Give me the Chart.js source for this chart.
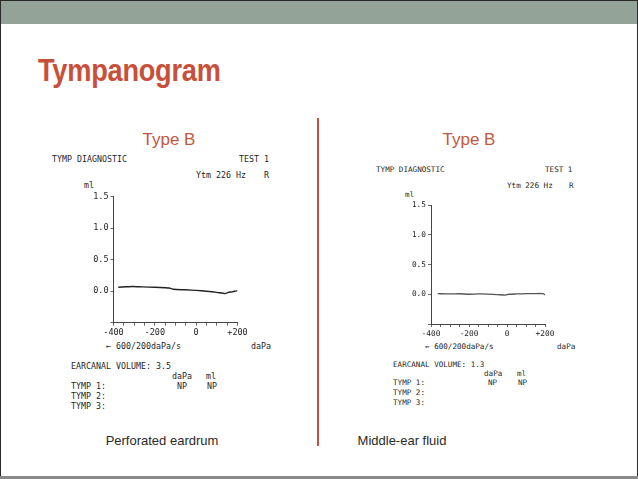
<!DOCTYPE html>
<html>
<head>
<meta charset="utf-8">
<script src="https://cdn.jsdelivr.net/npm/chart.js@4"></script>
<style>
  html, body { margin: 0; padding: 0; background: #fff; }
  #slide { position: relative; width: 638px; height: 479px; overflow: hidden; background: #fff; }
  .edge { position: absolute; background: #2a2a2a; }
  #bar { position: absolute; left: 0; top: 0; width: 638px; height: 24px; background: #93a398; }
  #title { position: absolute; left: 38px; top: 52px; font: bold 32px "Liberation Sans", Arial, sans-serif;
           color: #c8503a; letter-spacing: -0.3px; transform: scaleX(0.85); transform-origin: left top; line-height: 36px; }
  .type { position: absolute; top: 130px; width: 120px; text-align: center; font: 17px "Liberation Sans", Arial, sans-serif; color: #c0583f; }
  .caption { position: absolute; top: 433px; width: 180px; text-align: center; font: 13px "Liberation Sans", Arial, sans-serif; color: #2a2a2a; }
  #divider { position: absolute; left: 317px; top: 118px; width: 1.5px; height: 328px; background: #c8503a; }
  .p { position: absolute; font-family: "DejaVu Sans Mono", monospace; color: #1f1f1f; line-height: 1; white-space: pre; }
  .l { font-size: 8.3px; }
  .r { font-size: 7.6px; }
  canvas { position: absolute; }
</style>
</head>
<body>
<div id="slide">
  <div id="bar"></div>
  <div class="edge" style="left:0;top:0;width:638px;height:1px"></div>
  <div class="edge" style="left:0;top:0;width:1px;height:479px"></div>
  <div class="edge" style="left:637px;top:0;width:1px;height:479px"></div>
  <div class="edge" style="left:0;top:476px;width:638px;height:3px;background:#8a8a8a"></div>

  <div id="title">Tympanogram</div>
  <div id="divider"></div>

  <div class="type" style="left:109px">Type B</div>
  <div class="type" style="left:409px">Type B</div>

  <!-- left printout -->
  <div class="p l" style="left:52px;top:155px">TYMP DIAGNOSTIC</div>
  <div class="p l" style="left:239px;top:155px">TEST 1</div>
  <div class="p l" style="left:196px;top:171px">Ytm 226 Hz</div>
  <div class="p l" style="left:264px;top:171px">R</div>
  <div class="p l" style="left:84px;top:181px">ml</div>
  <div class="p l" style="left:106px;top:342px">&#8592; 600/200daPa/s</div>
  <div class="p l" style="left:251px;top:342px">daPa</div>
  <div class="p l" style="left:71px;top:362px">EARCANAL VOLUME: 3.5</div>
  <div class="p l" style="left:172px;top:372px">daPa</div>
  <div class="p l" style="left:206px;top:372px">ml</div>
  <div class="p l" style="left:71px;top:382px">TYMP 1:</div>
  <div class="p l" style="left:177px;top:382px">NP</div>
  <div class="p l" style="left:207px;top:382px">NP</div>
  <div class="p l" style="left:71px;top:392px">TYMP 2:</div>
  <div class="p l" style="left:71px;top:402px">TYMP 3:</div>

  <!-- right printout -->
  <div class="p r" style="left:376px;top:166px">TYMP DIAGNOSTIC</div>
  <div class="p r" style="left:545px;top:166px">TEST 1</div>
  <div class="p r" style="left:507px;top:182px">Ytm 226 Hz</div>
  <div class="p r" style="left:569px;top:182px">R</div>
  <div class="p r" style="left:405px;top:191px">ml</div>
  <div class="p r" style="left:425px;top:343px">&#8592; 600/200daPa/s</div>
  <div class="p r" style="left:557px;top:343px">daPa</div>
  <div class="p r" style="left:393px;top:361px">EARCANAL VOLUME: 1.3</div>
  <div class="p r" style="left:484px;top:370px">daPa</div>
  <div class="p r" style="left:517px;top:370px">ml</div>
  <div class="p r" style="left:393px;top:379px">TYMP 1:</div>
  <div class="p r" style="left:488px;top:379px">NP</div>
  <div class="p r" style="left:518px;top:379px">NP</div>
  <div class="p r" style="left:393px;top:389px">TYMP 2:</div>
  <div class="p r" style="left:393px;top:399px">TYMP 3:</div>

  <canvas id="leftChart" width="210" height="160" style="left:60px;top:185px"></canvas>
  <canvas id="rightChart" width="200" height="150" style="left:380px;top:195px"></canvas>

  <div class="caption" style="left:72px">Perforated eardrum</div>
  <div class="caption" style="left:312px">Middle-ear fluid</div>
</div>

<script>
// pressure (daPa) and compliance (ml)
const perforatedPressure = [-377, -340, -306, -260, -200, -150, -130, -110, -50, 0, 50, 100, 140, 155, 175, 185, 200];
const perforatedVolume   = [0.063, 0.070, 0.074, 0.068, 0.062, 0.055, 0.050, 0.030, 0.022, 0.013, 0.000, -0.018, -0.038, -0.018, -0.010, 0.000, 0.006];

const fluidPressure = [-365, -300, -250, -200, -150, -100, -50, -10, 10, 50, 100, 150, 190, 200];
const fluidVolume   = [0.010, 0.005, 0.008, 0.000, 0.005, 0.002, -0.005, -0.015, 0.000, 0.005, 0.010, 0.012, 0.010, -0.010];

const yTicks = [-0.5, 0, 0.5, 1.0, 1.5];
const xLabels = { "-400": "-400", "-200": "-200", "0": "0", "200": "+200" };

function makeTymp(canvasId, pressure, volume, opts) {
    const ctx = document.getElementById(canvasId).getContext('2d');
    const points = pressure.map((p, i) => ({ x: p, y: volume[i] }));
    const tickFont = { family: "DejaVu Sans Mono", size: opts.fontSize };

    return new Chart(ctx, {
        type: 'line',
        data: {
            datasets: [{
                data: points,
                borderColor: opts.lineColor,
                borderWidth: opts.lineWidth,
                pointRadius: 0,
                tension: 0.2,
                fill: false
            }]
        },
        options: {
            responsive: false,
            animation: false,
            layout: {
                padding: { top: opts.top, right: opts.right, left: 0, bottom: 0 }
            },
            plugins: { legend: { display: false }, tooltip: { enabled: false } },
            scales: {
                x: {
                    type: 'linear',
                    min: -400,
                    max: 200,
                    afterFit: s => { s.height = opts.xHeight; },
                    border: { color: '#444', width: 1 },
                    grid: { drawOnChartArea: false, tickLength: 3, color: '#666' },
                    ticks: {
                        stepSize: 50,
                        autoSkip: false,
                        maxRotation: 0,
                        padding: 2,
                        color: '#1f1f1f',
                        font: tickFont,
                        callback: v => xLabels[String(v)] || ''
                    }
                },
                y: {
                    min: -0.5,
                    max: 1.5,
                    afterFit: s => { s.width = opts.yWidth; },
                    afterBuildTicks: s => { s.ticks = yTicks.map(v => ({ value: v })); },
                    border: { color: '#444', width: 1 },
                    grid: { drawOnChartArea: false, tickLength: 3, color: '#666' },
                    ticks: {
                        padding: 2,
                        color: '#1f1f1f',
                        font: tickFont,
                        callback: v => v < 0 ? '' : v.toFixed(1)
                    }
                }
            }
        }
    });
}

document.addEventListener("DOMContentLoaded", function () {
    makeTymp('leftChart', perforatedPressure, perforatedVolume, {
        fontSize: 8.5, lineColor: '#222', lineWidth: 1.4,
        top: 11.7, right: 32.5, yWidth: 53.5, xHeight: 22.3
    });
    makeTymp('rightChart', fluidPressure, fluidVolume, {
        fontSize: 7.8, lineColor: '#555', lineWidth: 1.3,
        top: 10, right: 35, yWidth: 51, xHeight: 21
    });
});
</script>
</body>
</html>
